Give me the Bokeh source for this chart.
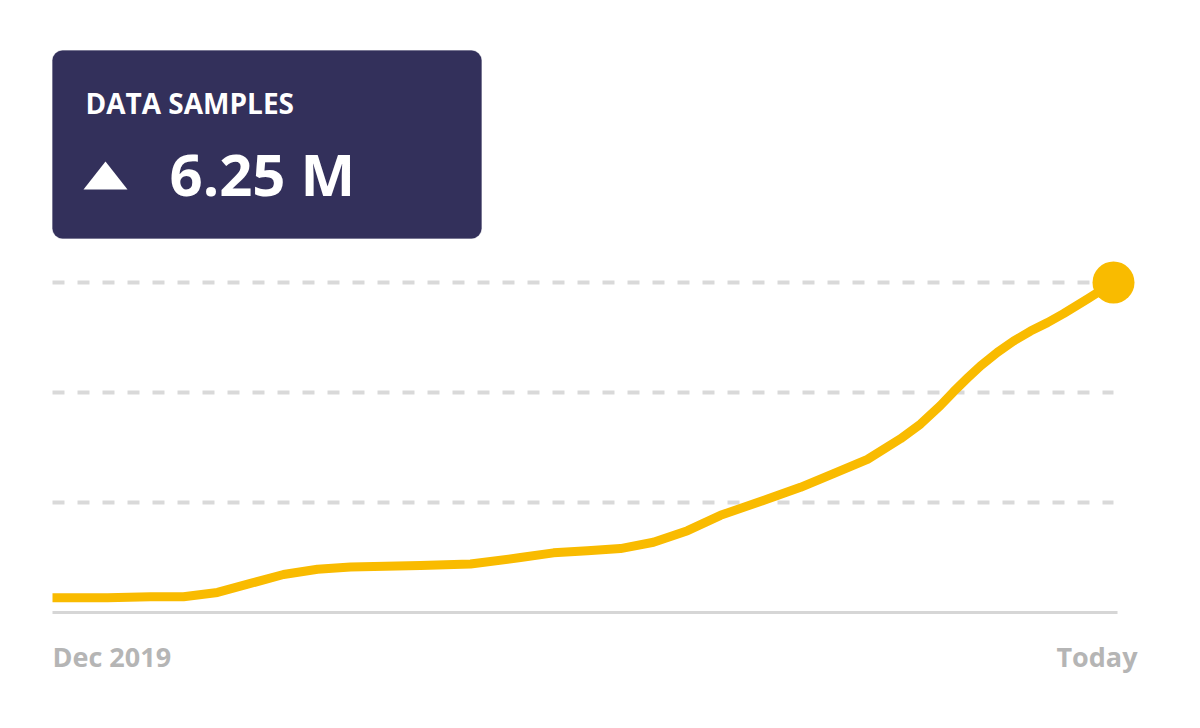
from bokeh.plotting import figure
from bokeh.models import Range1d, BoxAnnotation, Label
from bokeh.core.properties import value
from bokeh.embed import file_html
from bokeh.resources import INLINE

# ---------------- data ----------------
# time elapsed between Dec 2019 (0) and today (100), in percent
elapsed_pct = [0, 5.18, 9.24, 12.35, 15.55, 18.66, 21.77, 24.98, 28.09,
               34.68, 39.40, 44.11, 47.22, 50.42, 53.53, 56.64, 59.85,
               62.96, 67.39, 70.50, 73.61, 76.81, 79.92, 81.81, 83.69,
               84.92, 86.24, 87.46, 89.07, 90.57, 92.18, 93.78, 95.29,
               97.64, 100]
# data samples, millions
samples_m = [0.28, 0.28, 0.30, 0.30, 0.38, 0.55, 0.72, 0.82, 0.86,
             0.89, 0.92, 1.04, 1.13, 1.17, 1.21, 1.33, 1.55,
             1.84, 2.15, 2.37, 2.63, 2.90, 3.29, 3.57, 3.92,
             4.18, 4.44, 4.67, 4.93, 5.14, 5.33, 5.49, 5.66,
             5.95, 6.25]
grid_values = [6.25 / 3, 2 * 6.25 / 3, 6.25]
baseline_value = 0
x_labels = ["Dec 2019", "Today"]
card_title = "DATA SAMPLES"
card_value = "6.25 M"

# ---------------- layout ----------------
W, H = 1184, 712
OFF = 0
PX_X0, PX_X1 = 52, 1113
PX_Y0, PX_Y1 = 612, 282
T_MAX = 100.0
V_MAX = 6.25


def px2x(px):
    return (px - PX_X0) / (PX_X1 - PX_X0) * T_MAX


def px2y(py):
    return (PX_Y0 - py) / (PX_Y0 - PX_Y1) * V_MAX


p = figure(width=W, height=H, output_backend="svg", toolbar_location=None,
           x_axis_location=None, y_axis_location=None,
           x_range=Range1d(px2x(OFF), px2x(OFF + W)),
           y_range=Range1d(px2y(OFF + H), px2y(OFF)),
           min_border=0)
p.outline_line_color = None
p.xgrid.visible = False
p.ygrid.visible = False
p.background_fill_color = "white"
p.border_fill_color = "white"

NAVY = "#33305b"
YELLOW = "#f9bb00"
GRID = "#d9d9d9"
LABEL = "#b5b5b5"
FONT = value("Open Sans")

# dashed grid lines
p.segment(x0=[0] * len(grid_values), x1=[T_MAX] * len(grid_values),
          y0=grid_values, y1=grid_values, line_color=GRID, line_width=4,
          line_dash="12 13")
# baseline
p.segment(x0=[0], x1=[px2x(1117)], y0=[baseline_value], y1=[baseline_value],
          line_color="#d6d6d6", line_width=3)

# main line
p.line(elapsed_pct, samples_m, line_color=YELLOW, line_width=9,
       line_join="round", line_cap="butt")
p.scatter([elapsed_pct[-1]], [samples_m[-1]], size=42, fill_color=YELLOW,
          line_color=None)

# card
card = BoxAnnotation(left=px2x(52), right=px2x(481), top=px2y(50),
                     bottom=px2y(238), fill_color=NAVY, fill_alpha=1,
                     line_color=NAVY, border_radius=10, level="underlay")
p.add_layout(card)

p.add_layout(Label(x=px2x(85), y=px2y(102), text=card_title,
                   text_font="Open Sans", text_font_style="bold",
                   text_font_size="28px", text_color="white",
                   text_baseline="alphabetic"))
p.add_layout(Label(x=px2x(169), y=px2y(173), text=card_value,
                   text_font="Open Sans", text_font_style="bold",
                   text_font_size="58px", text_color="white",
                   text_baseline="alphabetic"))
# up triangle in card
tx0, tx1, ty_top, ty_bot = 83, 127, 161, 189
p.patch([px2x(tx0), px2x((tx0 + tx1) / 2), px2x(tx1)],
        [px2y(ty_bot), px2y(ty_top), px2y(ty_bot)],
        fill_color="white", line_color=None)

# x labels
p.text(x=[px2x(52)], y=[px2y(656)], text=[x_labels[0]], text_font=FONT,
       text_font_style="bold", text_font_size="27px", text_color=LABEL,
       text_align="left", text_baseline="alphabetic")
p.text(x=[px2x(1137)], y=[px2y(656)], text=[x_labels[1]], text_font=FONT,
       text_font_style="bold", text_font_size="27px", text_color=LABEL,
       text_align="right", text_baseline="alphabetic")

open("out.html", "w").write(file_html(p, INLINE))
